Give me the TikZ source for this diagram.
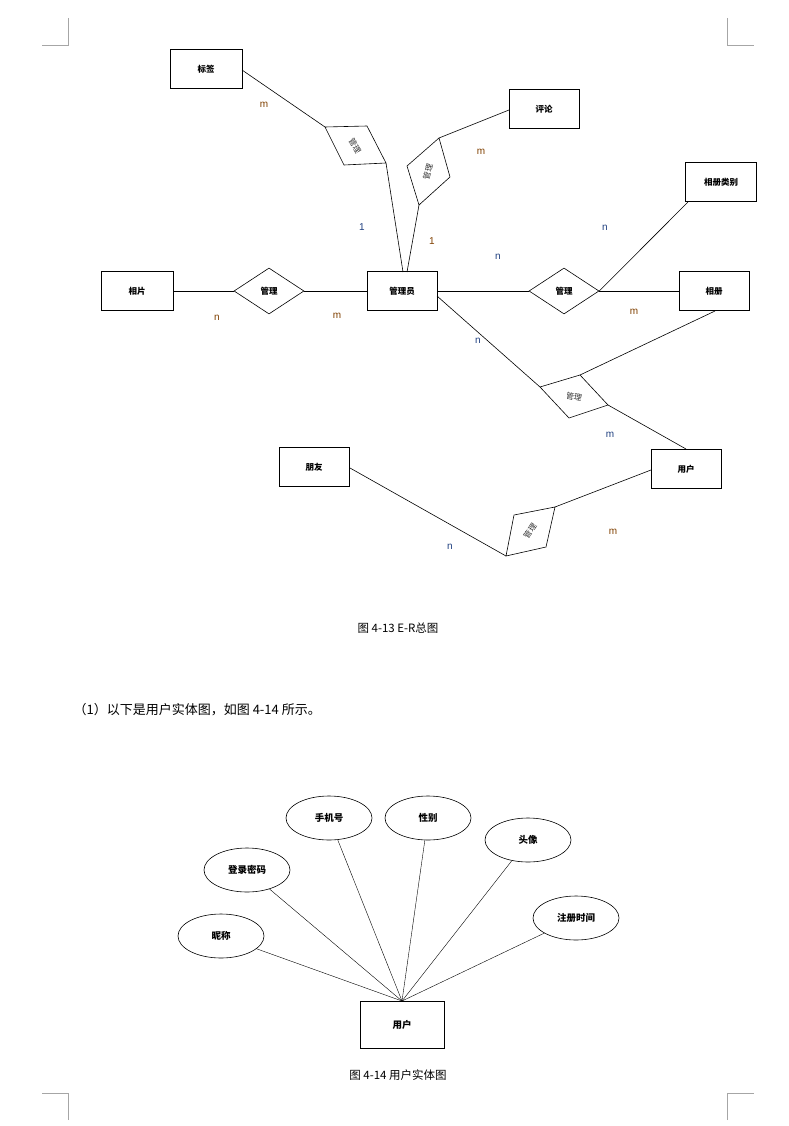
\documentclass[tikz,border=0pt]{standalone}
\usepackage{fontspec}
\setmainfont{Liberation Sans}
\newfontfamily\cjk{Noto Sans CJK SC}
\usetikzlibrary{shapes.geometric,backgrounds}
\definecolor{brn}{HTML}{7F3F00}
\definecolor{nvy}{HTML}{1F3F7F}
\begin{document}
\begin{tikzpicture}[x=1pt,y=-1pt,line width=0.6pt,
  ent/.style={draw,minimum width=70pt,minimum height=39pt,font=\cjk\bfseries\fontsize{8.5}{9}\selectfont,inner sep=0pt},
  rel/.style={draw,diamond,aspect=1.5,minimum width=70pt,minimum height=46pt,inner sep=0pt,font=\cjk\bfseries\fontsize{8.5}{9}\selectfont},
  att/.style={draw,ellipse,fill=white,minimum width=86pt,minimum height=44pt,inner sep=0pt,font=\cjk\bfseries\fontsize{9.5}{10}\selectfont},
  card/.style={font=\fontsize{10}{12}\selectfont},
  rtxt/.style={font=\cjk\fontsize{8}{9}\selectfont,text=black!80,inner sep=0pt},
  crn/.style={draw=black!35,line width=0.5pt}]
\useasboundingbox (0,0) rectangle (788,1126);
% corner marks
\draw[crn] (68,18)--(68,45)--(42,45);
\draw[crn] (727,18)--(727,45)--(754,45);
\draw[crn] (68,1120)--(68,1093)--(42,1093);
\draw[crn] (727,1120)--(727,1093)--(754,1093);
% entities
\node[ent,minimum width=72pt] (tag) at (206,69) {标签};
\node[ent] (cmt) at (544,109) {评论};
\node[ent,minimum width=71pt] (cat) at (721,182) {相册类别};
\node[ent,minimum width=72pt] (pho) at (137,291) {相片};
\node[ent] (adm) at (402,291) {管理员};
\node[ent] (alb) at (714,291) {相册};
\node[ent] (fri) at (314,467) {朋友};
\node[ent] (usr) at (686,469) {用户};
% normal diamonds
\node[rel] (r1) at (269,291) {管理};
\node[rel] (r2) at (564,291) {管理};
% skewed diamonds
\coordinate (a1) at (325,127); \coordinate (a2) at (367,126);
\coordinate (a3) at (386,163); \coordinate (a4) at (344,165);
\draw (a1)--(a2)--(a3)--(a4)--cycle;
\node[rtxt,rotate=-60] (t1) at (355,146) {管理};
\coordinate (b1) at (439,138); \coordinate (b2) at (450,177);
\coordinate (b3) at (419,205); \coordinate (b4) at (407,166);
\draw (b1)--(b2)--(b3)--(b4)--cycle;
\node[rtxt,rotate=75] (t2) at (428,172) {管理};
\coordinate (c1) at (540,387); \coordinate (c2) at (580,375);
\coordinate (c3) at (608,405); \coordinate (c4) at (569,418);
\draw (c1)--(c2)--(c3)--(c4)--cycle;
\node[rtxt,rotate=-12] (t3) at (574,397) {管理};
\coordinate (d1) at (506,556); \coordinate (d2) at (514,515);
\coordinate (d3) at (555,507); \coordinate (d4) at (546,547);
\draw (d1)--(d2)--(d3)--(d4)--cycle;
\node[rtxt,rotate=55] (t4) at (530,531) {管理};
% connectors
\coordinate (tagR) at (242,70); \draw (tagR)--(a1);
\coordinate (admT1) at (403,272); \draw (a3)--(admT1);
\coordinate (admT2) at (407,272); \draw (b3)--(admT2);
\coordinate (cmtL) at (509,110); \draw (cmtL)--(b1);
\draw (pho.east)--(r1.west); \draw (r1.east)--(adm.west);
\draw (adm.east)--(r2.west); \draw (r2.east)--(alb.west);
\coordinate (catB) at (688,202); \draw (catB)--(r2.east);
\coordinate (admR) at (437,296); \draw (admR)--(c1);
\coordinate (albB) at (715,311); \draw (c2)--(albB);
\coordinate (usrT) at (686,449); \draw (c3)--(usrT);
\coordinate (friR) at (350,468); \draw (friR)--(d1);
\coordinate (usrL) at (651,470); \draw (d3)--(usrL);
% cardinalities
\node[card,text=brn] (m1) at (264,105) {m};
\node[card,text=brn] (m2) at (481,152) {m};
\node[card,text=nvy] (o1) at (362,227) {1};
\node[card,text=brn] (o2) at (432,241) {1};
\node[card,text=nvy] (n1) at (498,257) {n};
\node[card,text=nvy] (n2) at (605,228) {n};
\node[card,text=brn] (m3) at (634,312) {m};
\node[card,text=brn] (n3) at (217,318) {n};
\node[card,text=brn] (m4) at (337,316) {m};
\node[card,text=nvy] (n4) at (478,341) {n};
\node[card,text=nvy] (m5) at (610,435) {m};
\node[card,text=nvy] (n5) at (450,547) {n};
\node[card,text=brn] (m6) at (613,532) {m};
% captions
\node[font=\cjk\fontsize{11.5}{13}\selectfont] (cap1) at (398,628) {图 4-13 E-R总图};
\node[font=\cjk\fontsize{13}{15}\selectfont,anchor=west] (txt) at (70,710) {（1）以下是用户实体图，如图 4-14 所示。};
% bottom diagram
\node[ent,minimum width=84pt,minimum height=47pt,font=\cjk\bfseries\fontsize{9.5}{10}\selectfont] (u2) at (402,1025) {用户};
\node[att] (e1) at (329,818) {手机号};
\node[att] (e2) at (428,818) {性别};
\node[att] (e3) at (528,840) {头像};
\node[att] (e4) at (247,870) {登录密码};
\node[att] (e5) at (576,918) {注册时间};
\node[att] (e6) at (221,936) {昵称};
\coordinate (hub) at (402,1001);
\begin{scope}[on background layer]
\foreach \e in {e1,e2,e3,e4,e5,e6} \draw (\e)--(hub);
\end{scope}
\node[font=\cjk\fontsize{11.5}{13}\selectfont] (cap2) at (398,1075) {图 4-14 用户实体图};
\end{tikzpicture}
\end{document}
